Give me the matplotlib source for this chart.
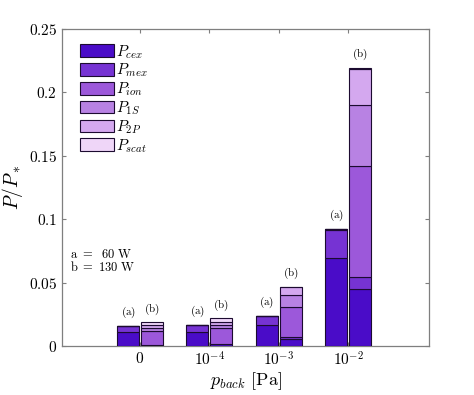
import matplotlib
matplotlib.use("Agg")
import matplotlib.pyplot as plt
import numpy as np

plt.rcParams['mathtext.fontset'] = 'cm'
plt.rcParams['font.family'] = 'DejaVu Serif'

categories = ['$0$', '$10^{-4}$', '$10^{-3}$', '$10^{-2}$']
components = ['$P_{cex}$', '$P_{mex}$', '$P_{ion}$', '$P_{1S}$', '$P_{2P}$', '$P_{scat}$']
colors = ['#4a0cc8', '#7633d3', '#9c58da', '#b882e3', '#d4a8ef', '#efd6f8']

# case (a): 60 W
P_a = {
    'cex':  [0.0108, 0.0113, 0.0166, 0.0692],
    'mex':  [0.0048, 0.0050, 0.0068, 0.0225],
    'ion':  [0.0003, 0.0003, 0.0003, 0.0005],
    '1S':   [0.0001, 0.0001, 0.0001, 0.0002],
    '2P':   [0.0001, 0.0001, 0.0001, 0.0001],
    'scat': [0.0000, 0.0000, 0.0000, 0.0000],
}
# case (b): 130 W
P_b = {
    'cex':  [0.0008, 0.0012, 0.0052, 0.0450],
    'mex':  [0.0002, 0.0003, 0.0021, 0.0092],
    'ion':  [0.0108, 0.0124, 0.0232, 0.0878],
    '1S':   [0.0021, 0.0024, 0.0097, 0.0480],
    '2P':   [0.0029, 0.0029, 0.0060, 0.0285],
    'scat': [0.0021, 0.0026, 0.0005, 0.0010],
}
keys = ['cex', 'mex', 'ion', '1S', '2P', 'scat']

fig = plt.figure(figsize=(4.74, 3.95), dpi=100)
ax = fig.add_axes([0.1308, 0.124, 0.7743, 0.8025])

x = np.arange(1, len(categories) + 1)
off = 0.172
w = 0.315
edge = '#1c0b30'

handles = []
for data, sgn, lab in [(P_a, -1, '(a)'), (P_b, 1, '(b)')]:
    bottom = np.zeros(len(x))
    for k, c in zip(keys, colors):
        vals = np.array(data[k])
        h = ax.bar(x + sgn * off, vals, w, bottom=bottom, color=c,
                   edgecolor=edge, linewidth=0.8, zorder=3)
        if sgn == -1:
            handles.append(h)
        bottom += vals
    for xi, top in zip(x + sgn * off, bottom):
        ax.annotate(r'$\mathrm{' + lab + '}$', (xi, top), xytext=(0, 4),
                    textcoords='offset points', ha='center', va='bottom',
                    fontsize=8)

ax.set_xlim(-0.125, 5.168)
ax.set_ylim(0, 0.25)
ax.set_xticks(x)
ax.set_xticklabels(categories, fontsize=11)
yt = [0, 0.05, 0.1, 0.15, 0.2, 0.25]
ax.set_yticks(yt)
ax.set_yticklabels(['$' + ('%g' % v) + '$' for v in yt], fontsize=11)
ax.tick_params(direction='in', top=True, right=True, length=3,
               color='#7f7f7f', width=0.8)
for s in ax.spines.values():
    s.set_color('#7f7f7f')
    s.set_linewidth(0.9)

ax.set_ylabel('$P/P_*$', fontsize=14)
ax.yaxis.set_label_coords(-0.1, 0.5)
ax.set_xlabel(r'$p_{back}$ $\mathrm{[Pa]}$', fontsize=13, labelpad=1)

leg = ax.legend(handles, components, loc='upper left', frameon=False,
                fontsize=11, handlelength=2.2, handleheight=0.9,
                labelspacing=0.08, handletextpad=0.15,
                bbox_to_anchor=(0.025, 0.985), borderaxespad=0.2)

ax.text(0.022, 0.290, r'$\mathrm{a\ =\ \ 60\ W}$', transform=ax.transAxes,
        fontsize=9, ha='left', va='center')
ax.text(0.022, 0.249, r'$\mathrm{b\ =\ 130\ W}$', transform=ax.transAxes,
        fontsize=9, ha='left', va='center')

fig.savefig('out.png', dpi=100)
